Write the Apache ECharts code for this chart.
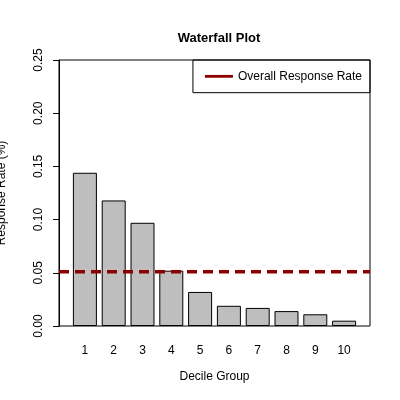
<!DOCTYPE html><html><head><script src="https://cdn.jsdelivr.net/npm/echarts@6/dist/echarts.min.js"></script></head><body style="margin:0"><div id="c" style="width:400px;height:400px"></div><script>
const categories=['1','2','3','4','5','6','7','8','9','10'];
const rates=[0.144,0.118,0.097,0.052,0.032,0.019,0.017,0.014,0.011,0.005];
const overall=0.051;
const yTicks=[0,0.05,0.1,0.15,0.2,0.25];
const ch=echarts.init(document.getElementById('c'));
const f='Liberation Sans, Arial, sans-serif';
ch.setOption({animation:false,
title:{text:'Waterfall Plot',left:214,top:22,textAlign:'center',textStyle:{fontFamily:f,fontSize:13,fontWeight:'bold',color:'#000'}},
legend:{data:[{name:'Overall Response Rate',icon:'path://M0,0H10V1H0Z'}],right:30,top:60,itemWidth:28,itemHeight:4,padding:[6,8,6,12],itemGap:4,borderColor:'#000',borderWidth:1,borderRadius:0,textStyle:{fontFamily:f,fontSize:12,color:'#000'}},
grid:[{left:59,right:30,top:60,bottom:74,show:true,borderColor:'#000',borderWidth:1,outerBoundsMode:'none',containLabel:false},{left:70.5,right:41.5,top:60,bottom:74,outerBoundsMode:'none',containLabel:false}],
xAxis:[{gridIndex:0,type:'value',min:0,max:1,show:false},
{gridIndex:1,type:'category',data:categories,name:'Decile Group',nameLocation:'middle',nameGap:40,nameTextStyle:{fontFamily:f,fontSize:12,color:'#000'},axisLine:{show:false},axisTick:{show:false},axisLabel:{fontFamily:f,fontSize:12,color:'#000',margin:14}}],
yAxis:[{gridIndex:0,type:'value',min:0,max:0.25,interval:0.05,name:'Response Rate (%)',nameLocation:'middle',nameGap:47,nameTextStyle:{fontFamily:f,fontSize:12,color:'#000'},axisLine:{show:true,lineStyle:{color:'#000'}},axisTick:{show:true,inside:false,length:6,lineStyle:{color:'#000'}},splitLine:{show:false},axisLabel:{rotate:90,fontFamily:f,fontSize:12,color:'#000',margin:10,formatter:v=>v.toFixed(2)}},
{gridIndex:1,type:'value',min:0,max:0.25,show:false}],
series:[{type:'bar',xAxisIndex:1,yAxisIndex:1,data:rates,barCategoryGap:'16.7%',itemStyle:{color:'#bebebe',borderColor:'#000',borderWidth:1}},
{name:'Overall Response Rate',type:'line',xAxisIndex:0,yAxisIndex:0,data:[[0,overall],[1,overall]],symbol:'none',lineStyle:{color:'#8b0000',width:3.5,type:[10,6]},itemStyle:{color:'#8b0000'}}]});
</script></body></html>
